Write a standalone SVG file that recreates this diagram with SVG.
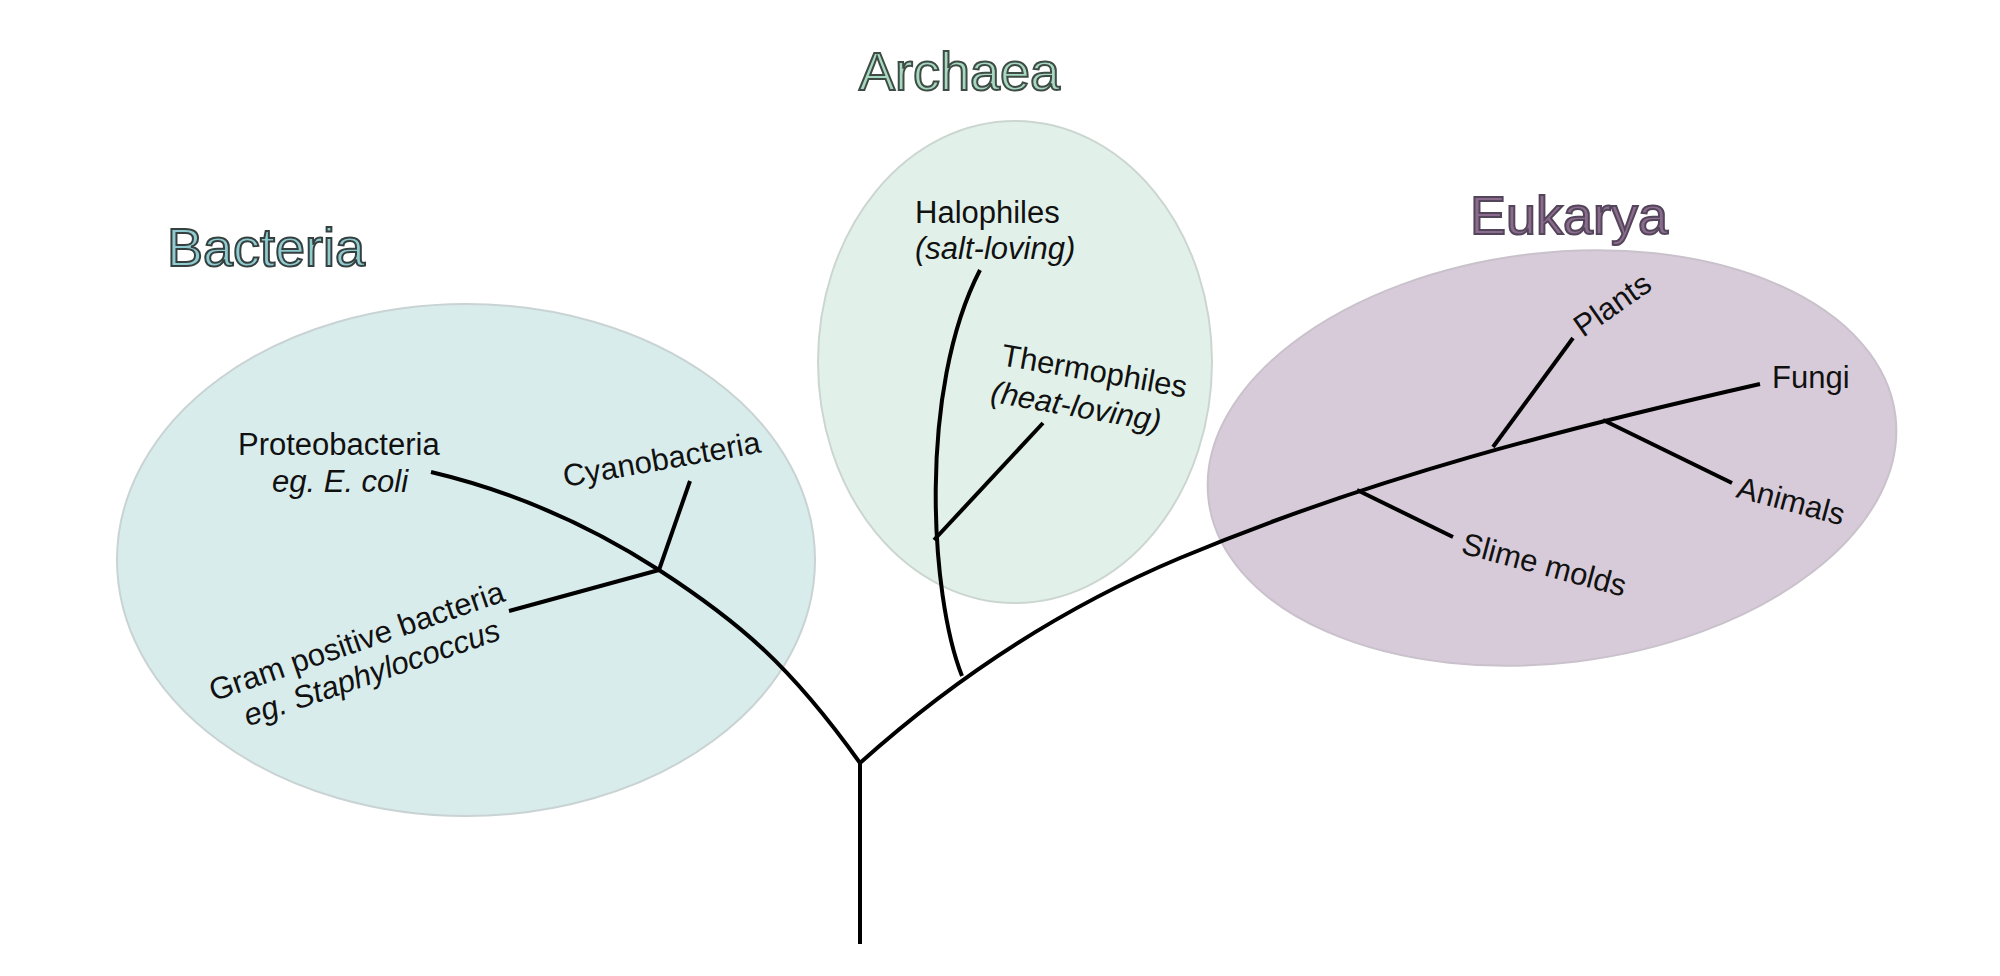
<svg xmlns="http://www.w3.org/2000/svg" width="2000" height="976" viewBox="0 0 2000 976">
  <style>
    .lbl { font-family: "Liberation Sans", Arial, sans-serif; font-size: 31px; fill: #111; }
    .it { font-style: italic; }
    .title { font-family: "Liberation Sans", Arial, sans-serif; font-size: 54px; stroke-width: 2px; }
    .br { fill: none; stroke: #000; stroke-width: 4px; stroke-linecap: butt; stroke-linejoin: round; }
  </style>
  <rect width="2000" height="976" fill="#ffffff"/>

  <g id="bacteria">
    <ellipse cx="466" cy="560" rx="349" ry="256" fill="#d9ecec" stroke="#c9d3d3" stroke-width="2"/>
    <text class="title" x="167" y="266" fill="#8fcbd0" stroke="#36403f">Bacteria</text>
  </g>
  <g id="archaea">
    <ellipse cx="1015" cy="362" rx="197" ry="241" fill="#e1f1ea" stroke="#ccd6d1" stroke-width="2"/>
    <text class="title" x="859" y="90" fill="#a7d8c1" stroke="#3f4c45">Archaea</text>
  </g>
  <g id="eukarya">
    <ellipse cx="1552" cy="458" rx="346" ry="205" transform="rotate(-7 1552 458)" fill="#d8cbd9" stroke="#c9c1cb" stroke-width="2"/>
    <text class="title" x="1470" y="234" fill="#8c6c8e" stroke="#54465a">Eukarya</text>
  </g>

  <g id="connectors">
    <path class="br" d="M860,944 L860,763"/>
    <path class="br" d="M860,763 C790,665 739,622 659,570 C583,521 507,490 431,472"/>
    <path class="br" d="M659,570 L690,481"/>
    <path class="br" d="M659,570 L509,611"/>
    <path class="br" d="M860,763 C967,667 1073,603 1180,558 C1373,477 1567,428 1760,384"/>
    <path class="br" d="M962,676 C930,595 918,390 980,270"/>
    <path class="br" d="M934,540 L1043,423"/>
    <path class="br" d="M1357,490 L1453,537"/>
    <path class="br" d="M1493,447 L1573,338"/>
    <path class="br" d="M1603,420 L1732,483"/>
  </g>

  <g id="proteobacteria">
    <text class="lbl" x="238" y="455">Proteobacteria</text>
    <text class="lbl it" x="272" y="492">eg. E. coli</text>
  </g>
  <g id="cyanobacteria">
    <text class="lbl" transform="translate(565,487) rotate(-10)">Cyanobacteria</text>
  </g>
  <g id="gram-positive" transform="translate(360,651) rotate(-19)">
    <text class="lbl" text-anchor="middle" x="0" y="0">Gram positive bacteria</text>
    <text class="lbl it" text-anchor="middle" x="4" y="35">eg. Staphylococcus</text>
  </g>
  <g id="halophiles">
    <text class="lbl" x="915" y="223">Halophiles</text>
    <text class="lbl it" x="915" y="259">(salt-loving)</text>
  </g>
  <g id="thermophiles" transform="translate(1000,365) rotate(10)">
    <text class="lbl" x="0" y="0">Thermophiles</text>
    <text class="lbl it" x="-4" y="38">(heat-loving)</text>
  </g>
  <g id="plants">
    <text class="lbl" transform="translate(1583,338) rotate(-35)">Plants</text>
  </g>
  <g id="fungi">
    <text class="lbl" x="1772" y="388">Fungi</text>
  </g>
  <g id="animals">
    <text class="lbl" transform="translate(1735,497) rotate(15)">Animals</text>
  </g>
  <g id="slime-molds">
    <text class="lbl" transform="translate(1460,553) rotate(15)">Slime molds</text>
  </g>
</svg>
